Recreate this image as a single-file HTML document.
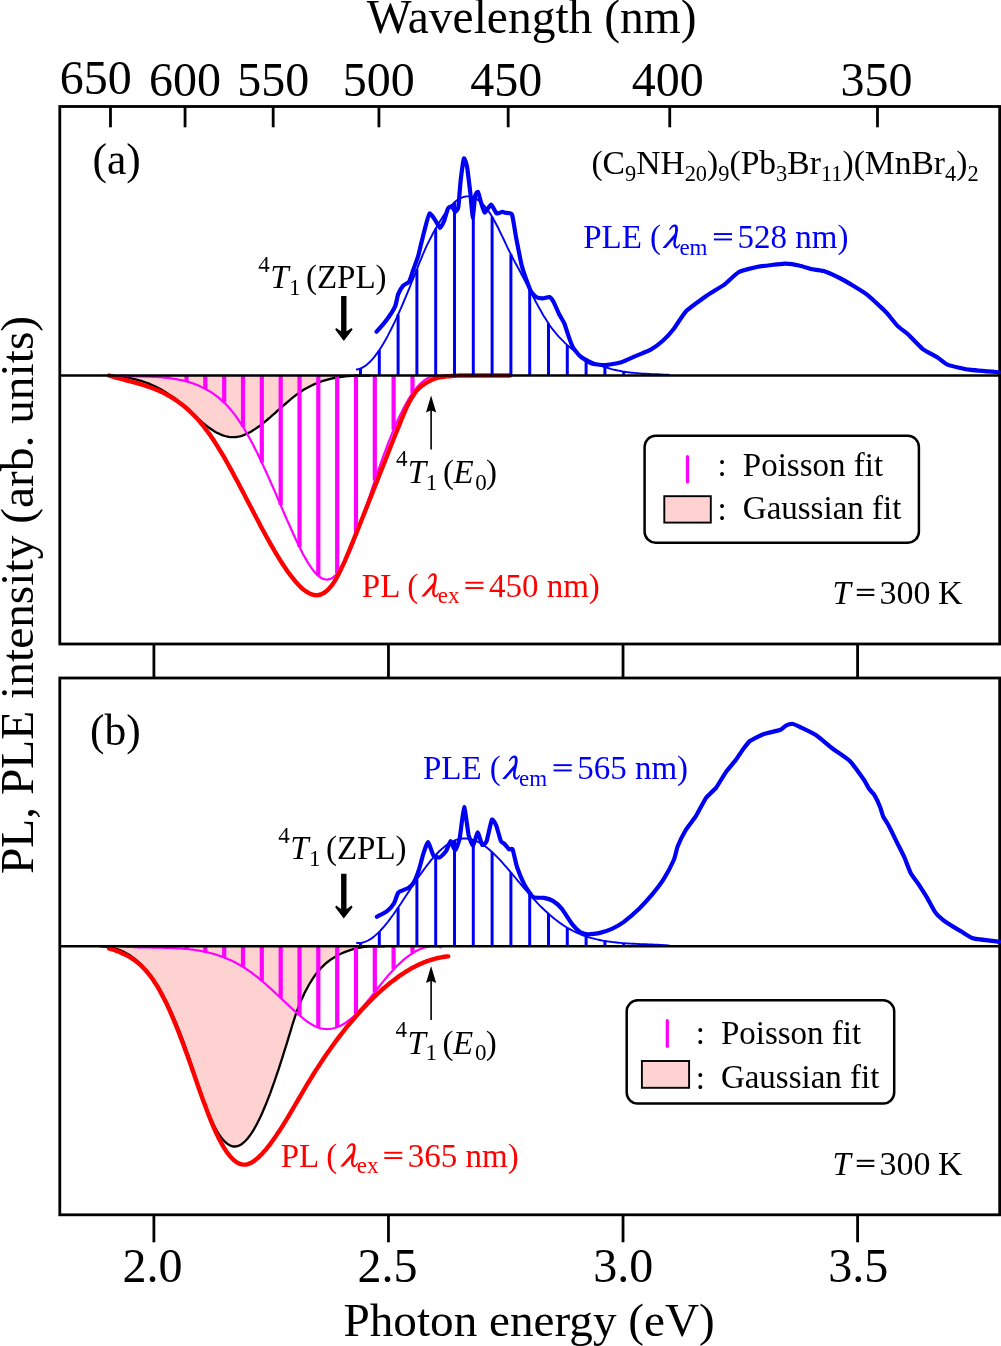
<!DOCTYPE html>
<html><head><meta charset="utf-8"><style>html,body{margin:0;padding:0;background:#fff;overflow:hidden}svg{display:block;will-change:transform}</style></head>
<body><svg width="1001" height="1346" viewBox="0 0 1001 1346"><rect x="59.8" y="106.5" width="939.9" height="537.5" fill="none" stroke="#000" stroke-width="2.8"/>
<rect x="59.8" y="678" width="939.9" height="536.8" fill="none" stroke="#000" stroke-width="2.8"/>
<line x1="110.48" y1="106.5" x2="110.48" y2="127.3" stroke="#000" stroke-width="2.8"/>
<line x1="185.05" y1="106.5" x2="185.05" y2="127.3" stroke="#000" stroke-width="2.8"/>
<line x1="273.17" y1="106.5" x2="273.17" y2="127.3" stroke="#000" stroke-width="2.8"/>
<line x1="378.93" y1="106.5" x2="378.93" y2="127.3" stroke="#000" stroke-width="2.8"/>
<line x1="508.18" y1="106.5" x2="508.18" y2="127.3" stroke="#000" stroke-width="2.8"/>
<line x1="669.75" y1="106.5" x2="669.75" y2="127.3" stroke="#000" stroke-width="2.8"/>
<line x1="877.48" y1="106.5" x2="877.48" y2="127.3" stroke="#000" stroke-width="2.8"/>
<line x1="153.90" y1="644" x2="153.90" y2="678" stroke="#000" stroke-width="2.8"/>
<line x1="153.90" y1="1214.8" x2="153.90" y2="1242.3" stroke="#000" stroke-width="2.8"/>
<line x1="388.46" y1="644" x2="388.46" y2="678" stroke="#000" stroke-width="2.8"/>
<line x1="388.46" y1="1214.8" x2="388.46" y2="1242.3" stroke="#000" stroke-width="2.8"/>
<line x1="623.03" y1="644" x2="623.03" y2="678" stroke="#000" stroke-width="2.8"/>
<line x1="623.03" y1="1214.8" x2="623.03" y2="1242.3" stroke="#000" stroke-width="2.8"/>
<line x1="857.59" y1="644" x2="857.59" y2="678" stroke="#000" stroke-width="2.8"/>
<line x1="857.59" y1="1214.8" x2="857.59" y2="1242.3" stroke="#000" stroke-width="2.8"/>
<text x="366.7" y="32.5" font-family="Liberation Serif" font-size="47.5">Wavelength (nm)</text>
<text x="343.5" y="1335.6" font-family="Liberation Serif" font-size="47.2">Photon energy (eV)</text>
<text transform="translate(33,874) rotate(-90)" x="0" y="0" font-family="Liberation Serif" font-size="47.4">PL, PLE intensity (arb. units)</text>
<text x="59.8" y="94.0" font-family="Liberation Serif" font-size="48">650</text>
<text x="149.0" y="96.0" font-family="Liberation Serif" font-size="48">600</text>
<text x="237.2" y="96.0" font-family="Liberation Serif" font-size="48">550</text>
<text x="342.7" y="96.0" font-family="Liberation Serif" font-size="48">500</text>
<text x="470.3" y="96.0" font-family="Liberation Serif" font-size="48">450</text>
<text x="631.8" y="96.0" font-family="Liberation Serif" font-size="48">400</text>
<text x="840.6" y="96.0" font-family="Liberation Serif" font-size="48">350</text>
<text x="122.4" y="1282" font-family="Liberation Serif" font-size="48">2.0</text>
<text x="357.4" y="1282" font-family="Liberation Serif" font-size="48">2.5</text>
<text x="593.3" y="1282" font-family="Liberation Serif" font-size="48">3.0</text>
<text x="828.3" y="1282" font-family="Liberation Serif" font-size="48">3.5</text>
<path d="M108.0,375.5 L108.0,375.8 L109.9,375.9 L111.8,375.9 L113.7,376.0 L115.5,376.2 L117.4,376.3 L119.3,376.5 L121.2,376.7 L123.1,377.0 L125.0,377.2 L126.8,377.5 L128.7,377.9 L130.6,378.2 L132.5,378.7 L134.4,379.1 L136.3,379.6 L138.2,380.1 L140.0,380.6 L141.9,381.2 L143.8,381.8 L145.7,382.5 L147.6,383.2 L149.5,383.9 L151.4,384.7 L153.2,385.6 L155.1,386.4 L157.0,387.4 L158.9,388.3 L160.8,389.3 L162.7,390.4 L164.5,391.5 L166.4,392.7 L168.3,393.9 L170.2,395.1 L172.1,396.4 L174.0,397.8 L175.9,399.2 L177.7,400.7 L179.6,402.2 L181.5,403.8 L183.4,405.4 L185.3,407.1 L187.2,408.8 L189.1,410.5 L190.9,412.2 L192.8,413.9 L194.7,415.7 L196.6,417.4 L198.5,419.1 L200.4,420.7 L202.2,422.3 L204.1,423.9 L206.0,425.4 L207.9,426.9 L209.8,428.2 L211.7,429.5 L213.6,430.8 L215.4,431.9 L217.3,432.9 L219.2,433.8 L221.1,434.7 L223.0,435.4 L224.9,436.0 L226.7,436.5 L228.6,436.9 L230.5,437.1 L232.4,437.2 L234.3,437.2 L236.2,437.0 L238.1,436.7 L239.9,436.3 L241.8,435.8 L243.7,435.1 L245.6,434.3 L247.5,433.5 L249.4,432.5 L251.3,431.5 L253.1,430.3 L255.0,429.1 L256.9,427.8 L258.8,426.5 L260.7,425.1 L262.6,423.6 L264.4,422.1 L266.3,420.6 L268.2,419.0 L270.1,417.4 L272.0,415.7 L273.9,414.0 L275.8,412.4 L277.6,410.7 L279.5,409.0 L281.4,407.3 L283.3,405.6 L285.2,404.0 L287.1,402.4 L288.9,400.8 L290.8,399.2 L292.7,397.7 L294.6,396.2 L296.5,394.7 L298.4,393.4 L300.3,392.1 L302.1,390.8 L304.0,389.6 L305.9,388.5 L307.8,387.5 L309.7,386.5 L311.6,385.5 L313.5,384.6 L315.3,383.8 L317.2,383.0 L319.1,382.3 L321.0,381.6 L322.9,380.9 L324.8,380.3 L326.6,379.8 L328.5,379.3 L330.4,378.8 L332.3,378.4 L334.2,378.0 L336.1,377.6 L338.0,377.3 L339.8,377.0 L341.7,376.8 L343.6,376.6 L345.5,376.4 L347.4,376.2 L349.3,376.0 L351.2,375.9 L353.0,375.8 L354.9,375.7 L356.8,375.7 L358.7,375.6 L360.6,375.6 L362.5,375.6 L364.3,375.6 L366.2,375.6 L368.1,375.6 L370.0,375.6 L370.0,375.5 Z" fill="#ffd2d2" stroke="none"/>
<path d="M108,375.8 L109.9,375.9 L111.8,375.9 L113.7,376 L115.5,376.2 L117.4,376.3 L119.3,376.5 L121.2,376.7 L123.1,377 L125,377.2 L126.8,377.5 L128.7,377.9 L130.6,378.2 L132.5,378.7 L134.4,379.1 L136.3,379.6 L138.2,380.1 L140,380.6 L141.9,381.2 L143.8,381.8 L145.7,382.5 L147.6,383.2 L149.5,383.9 L151.4,384.7 L153.2,385.6 L155.1,386.4 L157,387.4 L158.9,388.3 L160.8,389.3 L162.7,390.4 L164.5,391.5 L166.4,392.7 L168.3,393.9 L170.2,395.1 L172.1,396.4 L174,397.8 L175.9,399.2 L177.7,400.7 L179.6,402.2 L181.5,403.8 L183.4,405.4 L185.3,407.1 L187.2,408.8 L189.1,410.5 L190.9,412.2 L192.8,413.9 L194.7,415.7 L196.6,417.4 L198.5,419.1 L200.4,420.7 L202.2,422.3 L204.1,423.9 L206,425.4 L207.9,426.9 L209.8,428.2 L211.7,429.5 L213.6,430.8 L215.4,431.9 L217.3,432.9 L219.2,433.8 L221.1,434.7 L223,435.4 L224.9,436 L226.7,436.5 L228.6,436.9 L230.5,437.1 L232.4,437.2 L234.3,437.2 L236.2,437 L238.1,436.7 L239.9,436.3 L241.8,435.8 L243.7,435.1 L245.6,434.3 L247.5,433.5 L249.4,432.5 L251.3,431.5 L253.1,430.3 L255,429.1 L256.9,427.8 L258.8,426.5 L260.7,425.1 L262.6,423.6 L264.4,422.1 L266.3,420.6 L268.2,419 L270.1,417.4 L272,415.7 L273.9,414 L275.8,412.4 L277.6,410.7 L279.5,409 L281.4,407.3 L283.3,405.6 L285.2,404 L287.1,402.4 L288.9,400.8 L290.8,399.2 L292.7,397.7 L294.6,396.2 L296.5,394.7 L298.4,393.4 L300.3,392.1 L302.1,390.8 L304,389.6 L305.9,388.5 L307.8,387.5 L309.7,386.5 L311.6,385.5 L313.5,384.6 L315.3,383.8 L317.2,383 L319.1,382.3 L321,381.6 L322.9,380.9 L324.8,380.3 L326.6,379.8 L328.5,379.3 L330.4,378.8 L332.3,378.4 L334.2,378 L336.1,377.6 L338,377.3 L339.8,377 L341.7,376.8 L343.6,376.6 L345.5,376.4 L347.4,376.2 L349.3,376 L351.2,375.9 L353,375.8 L354.9,375.7 L356.8,375.7 L358.7,375.6 L360.6,375.6 L362.5,375.6 L364.3,375.6 L366.2,375.6 L368.1,375.6 L370,375.6" fill="none" stroke="#000" stroke-width="2.3"/>
<path d="M120,375.6 L122,375.7 L124,375.8 L126,375.9 L128.1,376 L130.1,376.1 L132.1,376.2 L134.1,376.2 L136.1,376.3 L138.1,376.4 L140.1,376.4 L142.1,376.5 L144.2,376.5 L146.2,376.6 L148.2,376.6 L150.2,376.7 L152.2,376.8 L154.2,376.9 L156.2,377 L158.2,377.1 L160.3,377.2 L162.3,377.4 L164.3,377.6 L166.3,377.8 L168.3,378 L170.3,378.2 L172.3,378.5 L174.3,378.8 L176.4,379.2 L178.4,379.6 L180.4,380 L182.4,380.4 L184.4,380.9 L186.4,381.4 L188.4,382 L190.4,382.6 L192.5,383.3 L194.5,384 L196.5,384.8 L198.5,385.6 L200.5,386.5 L202.5,387.4 L204.5,388.5 L206.5,389.5 L208.6,390.7 L210.6,391.9 L212.6,393.2 L214.6,394.6 L216.6,396.1 L218.6,397.7 L220.6,399.4 L222.6,401.2 L224.7,403.1 L226.7,405.2 L228.7,407.3 L230.7,409.6 L232.7,412.1 L234.7,414.6 L236.7,417.4 L238.7,420.3 L240.8,423.3 L242.8,426.5 L244.8,429.8 L246.8,433.2 L248.8,436.8 L250.8,440.5 L252.8,444.3 L254.8,448.2 L256.9,452.3 L258.9,456.4 L260.9,460.6 L262.9,464.9 L264.9,469.2 L266.9,473.6 L268.9,478.1 L270.9,482.7 L273,487.2 L275,491.9 L277,496.5 L279,501.2 L281,505.9 L283,510.6 L285,515.2 L287,519.9 L289.1,524.5 L291.1,529 L293.1,533.5 L295.1,537.8 L297.1,542.1 L299.1,546.3 L301.1,550.3 L303.1,554.2 L305.2,557.9 L307.2,561.4 L309.2,564.7 L311.2,567.6 L313.2,570.4 L315.2,572.8 L317.2,574.9 L319.2,576.6 L321.3,578 L323.3,578.9 L325.3,579.5 L327.3,579.6 L329.3,579.2 L331.3,578.4 L333.3,577.2 L335.3,575.5 L337.4,573.4 L339.4,570.9 L341.4,568 L343.4,564.6 L345.4,560.9 L347.4,556.8 L349.4,552.4 L351.4,547.7 L353.5,542.7 L355.5,537.4 L357.5,531.9 L359.5,526.3 L361.5,520.4 L363.5,514.5 L365.5,508.5 L367.5,502.4 L369.6,496.3 L371.6,490.2 L373.6,484.2 L375.6,478.2 L377.6,472.3 L379.6,466.5 L381.6,460.8 L383.6,455.3 L385.7,449.8 L387.7,444.5 L389.7,439.4 L391.7,434.3 L393.7,429.5 L395.7,424.8 L397.7,420.3 L399.7,415.9 L401.8,411.8 L403.8,407.8 L405.8,404.1 L407.8,400.5 L409.8,397.2 L411.8,394.1 L413.8,391.3 L415.8,388.6 L417.9,386.3 L419.9,384.1 L421.9,382.2 L423.9,380.5 L425.9,379.1 L427.9,377.9 L429.9,377 L431.9,376.3 L434,375.9 L436,375.7 L438,375.7 L440,376" fill="none" stroke="#ff00ff" stroke-width="2.2"/>
<line x1="431.3" y1="375.5" x2="431.3" y2="376.5" stroke="#ff00ff" stroke-width="4.2"/>
<line x1="412.5" y1="375.5" x2="412.5" y2="393.2" stroke="#ff00ff" stroke-width="4.2"/>
<line x1="393.6" y1="375.5" x2="393.6" y2="429.7" stroke="#ff00ff" stroke-width="4.2"/>
<line x1="374.8" y1="375.5" x2="374.8" y2="480.5" stroke="#ff00ff" stroke-width="4.2"/>
<line x1="356.0" y1="375.5" x2="356.0" y2="536.0" stroke="#ff00ff" stroke-width="4.2"/>
<line x1="337.2" y1="375.5" x2="337.2" y2="573.6" stroke="#ff00ff" stroke-width="4.2"/>
<line x1="318.3" y1="375.5" x2="318.3" y2="575.8" stroke="#ff00ff" stroke-width="4.2"/>
<line x1="299.5" y1="375.5" x2="299.5" y2="547.1" stroke="#ff00ff" stroke-width="4.2"/>
<line x1="280.7" y1="375.5" x2="280.7" y2="505.1" stroke="#ff00ff" stroke-width="4.2"/>
<line x1="261.8" y1="375.5" x2="261.8" y2="462.6" stroke="#ff00ff" stroke-width="4.2"/>
<line x1="243.0" y1="375.5" x2="243.0" y2="426.9" stroke="#ff00ff" stroke-width="4.2"/>
<line x1="224.2" y1="375.5" x2="224.2" y2="402.6" stroke="#ff00ff" stroke-width="4.2"/>
<line x1="205.3" y1="375.5" x2="205.3" y2="388.9" stroke="#ff00ff" stroke-width="4.2"/>
<line x1="186.5" y1="375.5" x2="186.5" y2="381.5" stroke="#ff00ff" stroke-width="4.2"/>
<line x1="167.7" y1="375.5" x2="167.7" y2="377.9" stroke="#ff00ff" stroke-width="4.2"/>
<path d="M109,375.5 L111,376.1 L113,376.7 L115,377.3 L117.1,377.8 L119.1,378.4 L121.1,378.9 L123.1,379.4 L125.1,380 L127.1,380.5 L129.2,381 L131.2,381.6 L133.2,382.1 L135.2,382.6 L137.2,383.2 L139.2,383.8 L141.2,384.4 L143.3,385 L145.3,385.6 L147.3,386.3 L149.3,387 L151.3,387.7 L153.3,388.5 L155.3,389.3 L157.4,390.1 L159.4,391 L161.4,391.9 L163.4,392.9 L165.4,393.9 L167.4,395 L169.5,396.1 L171.5,397.3 L173.5,398.6 L175.5,399.9 L177.5,401.3 L179.5,402.7 L181.5,404.2 L183.6,405.8 L185.6,407.5 L187.6,409.2 L189.6,411.1 L191.6,413 L193.6,415 L195.6,417.1 L197.7,419.3 L199.7,421.6 L201.7,424 L203.7,426.5 L205.7,429.1 L207.7,431.8 L209.8,434.6 L211.8,437.5 L213.8,440.5 L215.8,443.6 L217.8,446.8 L219.8,450.1 L221.8,453.4 L223.9,456.9 L225.9,460.4 L227.9,464 L229.9,467.6 L231.9,471.3 L233.9,475 L235.9,478.7 L238,482.5 L240,486.4 L242,490.2 L244,494.1 L246,497.9 L248,501.8 L250.1,505.7 L252.1,509.6 L254.1,513.5 L256.1,517.3 L258.1,521.1 L260.1,525 L262.1,528.7 L264.2,532.5 L266.2,536.2 L268.2,539.8 L270.2,543.4 L272.2,546.9 L274.2,550.4 L276.3,553.8 L278.3,557.1 L280.3,560.3 L282.3,563.5 L284.3,566.5 L286.3,569.5 L288.3,572.4 L290.4,575.1 L292.4,577.7 L294.4,580.2 L296.4,582.6 L298.4,584.8 L300.4,586.8 L302.4,588.7 L304.5,590.3 L306.5,591.7 L308.5,592.9 L310.5,593.9 L312.5,594.6 L314.5,595 L316.6,595.2 L318.6,595 L320.6,594.5 L322.6,593.7 L324.6,592.5 L326.6,591 L328.6,589.1 L330.7,586.8 L332.7,584.1 L334.7,581.1 L336.7,577.6 L338.7,573.9 L340.7,569.8 L342.7,565.6 L344.8,561.1 L346.8,556.4 L348.8,551.6 L350.8,546.7 L352.8,541.8 L354.8,536.8 L356.9,531.8 L358.9,526.7 L360.9,521.7 L362.9,516.7 L364.9,511.6 L366.9,506.6 L368.9,501.5 L371,496.4 L373,491.3 L375,486.2 L377,481.1 L379,476 L381,470.9 L383.1,465.7 L385.1,460.6 L387.1,455.5 L389.1,450.4 L391.1,445.3 L393.1,440.2 L395.1,435.1 L397.2,430.1 L399.2,425.1 L401.2,420.1 L403.2,415.3 L405.2,410.6 L407.2,406.2 L409.2,402.1 L411.3,398.5 L413.3,395.3 L415.3,392.5 L417.3,390 L419.3,387.9 L421.3,386.2 L423.4,384.7 L425.4,383.3 L427.4,382.1 L429.4,381 L431.4,380 L433.4,379.2 L435.4,378.5 L437.5,377.9 L439.5,377.4 L441.5,377 L443.5,376.7 L445.5,376.5 L447.5,376.3 L449.5,376.2 L451.6,376 L453.6,375.9 L455.6,375.7 L457.6,375.6 L459.6,375.5 L461.6,375.5 L463.7,375.5 L465.7,375.5 L467.7,375.5 L469.7,375.5 L471.7,375.5 L473.7,375.5 L475.7,375.5 L477.8,375.5 L479.8,375.5 L481.8,375.5 L483.8,375.5 L485.8,375.5 L487.8,375.5 L489.8,375.5 L491.9,375.5 L493.9,375.5 L495.9,375.5 L497.9,375.5 L499.9,375.5 L501.9,375.5 L504,375.5 L506,375.5 L508,375.5 L510,375.5" fill="none" stroke="#ff0000" stroke-width="4.4" stroke-linejoin="round" stroke-linecap="round"/>
<line x1="360.5" y1="375.5" x2="360.5" y2="368.4" stroke="#0000f4" stroke-width="3"/>
<line x1="379.3" y1="375.5" x2="379.3" y2="350.1" stroke="#0000f4" stroke-width="3"/>
<line x1="398.1" y1="375.5" x2="398.1" y2="314.5" stroke="#0000f4" stroke-width="3"/>
<line x1="416.9" y1="375.5" x2="416.9" y2="269.3" stroke="#0000f4" stroke-width="3"/>
<line x1="435.7" y1="375.5" x2="435.7" y2="228.5" stroke="#0000f4" stroke-width="3"/>
<line x1="454.5" y1="375.5" x2="454.5" y2="202.3" stroke="#0000f4" stroke-width="3"/>
<line x1="473.3" y1="375.5" x2="473.3" y2="197.5" stroke="#0000f4" stroke-width="3"/>
<line x1="492.1" y1="375.5" x2="492.1" y2="216.8" stroke="#0000f4" stroke-width="3"/>
<line x1="510.9" y1="375.5" x2="510.9" y2="254.3" stroke="#0000f4" stroke-width="3"/>
<line x1="529.7" y1="375.5" x2="529.7" y2="290.0" stroke="#0000f4" stroke-width="3"/>
<line x1="548.5" y1="375.5" x2="548.5" y2="323.4" stroke="#0000f4" stroke-width="3"/>
<line x1="567.3" y1="375.5" x2="567.3" y2="345.0" stroke="#0000f4" stroke-width="3"/>
<line x1="586.1" y1="375.5" x2="586.1" y2="358.7" stroke="#0000f4" stroke-width="3"/>
<line x1="604.9" y1="375.5" x2="604.9" y2="367.1" stroke="#0000f4" stroke-width="3"/>
<line x1="623.7" y1="375.5" x2="623.7" y2="371.6" stroke="#0000f4" stroke-width="3"/>
<line x1="642.5" y1="375.5" x2="642.5" y2="373.6" stroke="#0000f4" stroke-width="3"/>
<path d="M356,369.5 L358,369.2 L359.9,368.7 L361.9,367.8 L363.9,366.7 L365.9,365.4 L367.8,363.8 L369.8,362 L371.8,359.9 L373.8,357.6 L375.7,355.1 L377.7,352.4 L379.7,349.5 L381.6,346.4 L383.6,343.2 L385.6,339.7 L387.6,336.1 L389.5,332.4 L391.5,328.5 L393.5,324.4 L395.5,320.3 L397.4,316 L399.4,311.6 L401.4,307.1 L403.4,302.5 L405.3,297.9 L407.3,293.1 L409.3,288.3 L411.2,283.5 L413.2,278.6 L415.2,273.6 L417.2,268.7 L419.1,263.7 L421.1,258.8 L423.1,254 L425.1,249.4 L427,245.1 L429,241.1 L431,237.2 L432.9,233.5 L434.9,229.9 L436.9,226.4 L438.9,223.1 L440.8,219.9 L442.8,216.8 L444.8,213.8 L446.8,211.1 L448.7,208.5 L450.7,206.2 L452.7,204.1 L454.6,202.2 L456.6,200.6 L458.6,199.2 L460.6,198.2 L462.5,197.3 L464.5,196.8 L466.5,196.4 L468.5,196.4 L470.4,196.6 L472.4,197.1 L474.4,197.9 L476.4,198.9 L478.3,200.2 L480.3,201.8 L482.3,203.6 L484.2,205.7 L486.2,208.1 L488.2,210.7 L490.2,213.6 L492.1,216.8 L494.1,220.3 L496.1,224 L498.1,227.8 L500,231.8 L502,235.9 L504,240 L505.9,244.2 L507.9,248.3 L509.9,252.3 L511.9,256.2 L513.8,260 L515.8,263.7 L517.8,267.3 L519.8,271 L521.7,274.7 L523.7,278.4 L525.7,282.2 L527.6,286 L529.6,289.9 L531.6,293.7 L533.6,297.5 L535.5,301.2 L537.5,304.9 L539.5,308.5 L541.5,312 L543.4,315.4 L545.4,318.6 L547.4,321.8 L549.3,324.7 L551.3,327.5 L553.3,330.1 L555.3,332.5 L557.2,334.9 L559.2,337.1 L561.2,339.2 L563.2,341.2 L565.1,343.1 L567.1,344.9 L569.1,346.6 L571.1,348.3 L573,349.8 L575,351.4 L577,352.8 L578.9,354.2 L580.9,355.5 L582.9,356.8 L584.9,358 L586.8,359.1 L588.8,360.2 L590.8,361.2 L592.8,362.2 L594.7,363.1 L596.7,364 L598.7,364.8 L600.6,365.6 L602.6,366.3 L604.6,367 L606.6,367.6 L608.5,368.2 L610.5,368.8 L612.5,369.3 L614.5,369.8 L616.4,370.2 L618.4,370.6 L620.4,371 L622.3,371.4 L624.3,371.7 L626.3,372 L628.3,372.2 L630.2,372.5 L632.2,372.7 L634.2,372.9 L636.2,373.1 L638.1,373.3 L640.1,373.4 L642.1,373.6 L644.1,373.7 L646,373.8 L648,373.9 L650,374 L651.9,374.1 L653.9,374.2 L655.9,374.2 L657.9,374.3 L659.8,374.4 L661.8,374.5 L663.8,374.6 L665.8,374.7 L667.7,374.8 L669.7,374.9" fill="none" stroke="#0000f4" stroke-width="1.9"/>
<path d="M376.6,331.7C377.5,330.7 385.6,321.3 387.1,319.2C388.7,317.1 394.3,308.3 395.2,306.2C396.1,304.1 397.5,295.8 398.2,294.1C398.9,292.4 402.3,286.6 403.2,285.6C404.1,284.6 408.4,282.9 409.2,281.6C410,280.3 412.4,272.2 413.2,270.1C413.9,268 417.6,258.1 418.2,256C418.8,253.9 420.2,247.7 420.7,245.5C421.2,243.3 424,232.2 424.7,229.5C425.4,226.8 428.6,214.3 429.5,213.5C430.4,212.7 434.2,218.7 435.1,219.9C436,221.1 439.2,227.8 439.9,227.9C440.6,228 443.2,223.1 443.9,221.5C444.6,219.9 447.2,210 447.9,208.7C448.6,207.4 451.3,206 451.9,206.3C452.5,206.6 454.6,211.8 455.1,211.9C455.6,212 457.8,209.8 458.3,207.1C458.8,204.4 460.2,184.1 460.7,180C461.2,175.9 463.4,159.5 463.9,158.4C464.4,157.3 466.6,164.3 467.1,167.2C467.6,170.1 469.8,188.5 470.3,192.7C470.8,196.9 472.3,217.2 472.7,217.5C473.1,217.8 474.7,198.1 475.1,196C475.5,193.9 477.5,191.3 478,192C478.5,192.7 480.9,202.3 481.5,204C482.1,205.7 483.9,212.6 484.7,212.7C485.5,212.8 490.1,204.6 491.1,204.7C492.1,204.8 495.8,212.9 496.7,213.5C497.6,214.1 501.6,212 502.3,211.9C503,211.8 504.6,212.5 505.4,212.7C506.2,212.9 511.1,212.6 512,214.7C512.9,216.8 515.3,233.4 516.1,237.5C516.9,241.6 520.6,260.8 521.4,264.2C522.2,267.6 525.3,276.7 526.1,278.9C526.9,281.1 530,289.5 530.8,291C531.6,292.5 535.1,296.4 536.1,297C537.1,297.6 541.7,298.3 542.8,298.3C543.9,298.3 548.6,296.7 549.5,297C550.4,297.3 552.7,300.3 553.5,301.7C554.3,303.1 558,311.9 558.9,313.7C559.8,315.5 563.4,321.3 564.2,323.1C565,324.9 567.5,333.1 568.2,335.1C568.9,337.1 571.9,345.4 572.9,347.2C573.9,349 578.8,355.2 580.3,356.5C581.8,357.8 589,362.5 591,363.2C593,363.9 601.8,365.3 604.3,365.2C606.8,365.1 618.9,363 621.5,362.2C624.1,361.4 633.7,356.9 636.1,355.9C638.5,354.8 648.5,350.9 650.8,349.6C653.1,348.3 661.5,341.9 663.4,340.2C665.3,338.5 672,331.1 673.9,328.7C675.8,326.2 683.7,313.6 686.5,310.8C689.3,308 704.4,297.3 707.5,295.1C710.6,292.9 721.7,286.5 724.3,284.6C726.9,282.7 736.1,273.5 738.9,272C741.7,270.5 753.9,267.5 757.8,266.8C761.6,266.1 781.6,263.7 785.1,263.6C788.6,263.5 797.8,265.2 800,265.7C802.2,266.1 809.1,268.6 811.1,269C813.1,269.4 821.2,270.3 823.7,271.1C826.2,271.9 838.1,277.3 840.6,278.5C843.1,279.7 850.9,284.4 853.2,285.8C855.5,287.2 865.7,293.5 868,295.3C870.3,297.1 879,305.4 880.6,306.9C882.2,308.4 885.6,311.6 887,313.2C888.4,314.8 895.8,324.1 897.5,325.9C899.2,327.7 905.9,332.4 908,334.3C910.1,336.2 920.3,347.2 922.8,349.1C925.3,351 935.5,356.2 937.6,357.5C939.7,358.8 945.5,363.9 948.1,364.9C950.7,365.9 965,369.1 969.2,369.7C973.4,370.3 996.2,372.1 998.7,372.3" fill="none" stroke="#0000f4" stroke-width="4.2" stroke-linejoin="round" stroke-linecap="round"/>
<line x1="60" y1="375.5" x2="999" y2="375.5" stroke="#000" stroke-width="2.6"/>
<path d="M100.0,946.3 L100.0,946.3 L102.1,946.4 L104.1,946.5 L106.2,946.7 L108.2,947.0 L110.3,947.4 L112.3,947.8 L114.4,948.3 L116.4,948.9 L118.5,949.6 L120.5,950.4 L122.6,951.3 L124.6,952.3 L126.7,953.4 L128.7,954.6 L130.8,955.9 L132.8,957.4 L134.9,958.9 L136.9,960.6 L139.0,962.5 L141.0,964.4 L143.1,966.5 L145.1,968.8 L147.2,971.2 L149.2,973.8 L151.3,976.5 L153.3,979.4 L155.4,982.4 L157.4,985.6 L159.5,989.0 L161.5,992.6 L163.6,996.4 L165.6,1000.3 L167.7,1004.4 L169.7,1008.7 L171.8,1013.1 L173.8,1017.8 L175.9,1022.6 L177.9,1027.5 L180.0,1032.7 L182.0,1038.0 L184.1,1043.5 L186.1,1049.2 L188.2,1055.1 L190.2,1061.1 L192.3,1067.2 L194.3,1073.4 L196.4,1079.5 L198.4,1085.7 L200.5,1091.7 L202.5,1097.6 L204.6,1103.3 L206.6,1108.7 L208.7,1113.8 L210.7,1118.6 L212.8,1123.0 L214.8,1127.1 L216.9,1130.8 L218.9,1134.2 L221.0,1137.1 L223.0,1139.7 L225.1,1141.9 L227.1,1143.6 L229.2,1145.0 L231.2,1145.9 L233.3,1146.5 L235.3,1146.5 L237.4,1146.2 L239.4,1145.4 L241.5,1144.2 L243.5,1142.7 L245.6,1140.8 L247.6,1138.5 L249.7,1135.8 L251.7,1132.9 L253.8,1129.6 L255.8,1126.0 L257.9,1122.1 L259.9,1117.9 L262.0,1113.5 L264.0,1108.8 L266.1,1103.8 L268.1,1098.6 L270.2,1093.3 L272.2,1087.7 L274.3,1081.9 L276.3,1075.9 L278.4,1069.8 L280.4,1063.6 L282.5,1057.2 L284.5,1050.7 L286.6,1044.1 L288.6,1037.4 L290.7,1030.6 L292.7,1023.8 L294.8,1017.4 L296.8,1011.4 L298.9,1006.0 L300.9,1001.0 L303.0,996.4 L305.0,992.1 L307.1,988.2 L309.1,984.5 L311.2,981.1 L313.2,977.9 L315.3,975.0 L317.3,972.3 L319.4,969.9 L321.4,967.6 L323.5,965.6 L325.5,963.7 L327.6,962.0 L329.6,960.4 L331.7,959.0 L333.7,957.7 L335.8,956.5 L337.8,955.3 L339.9,954.3 L341.9,953.3 L344.0,952.4 L346.0,951.6 L348.1,950.8 L350.1,950.1 L352.2,949.5 L354.2,948.9 L356.3,948.4 L358.3,947.9 L360.4,947.5 L362.4,947.1 L364.5,946.8 L366.5,946.6 L368.6,946.4 L370.6,946.3 L372.7,946.3 L374.7,946.3 L376.8,946.3 L378.8,946.3 L380.9,946.3 L382.9,946.3 L385.0,946.4 L385.0,946.3 Z" fill="#ffd2d2" stroke="none"/>
<path d="M100,946.3 L102.1,946.4 L104.1,946.5 L106.2,946.7 L108.2,947 L110.3,947.4 L112.3,947.8 L114.4,948.3 L116.4,948.9 L118.5,949.6 L120.5,950.4 L122.6,951.3 L124.6,952.3 L126.7,953.4 L128.7,954.6 L130.8,955.9 L132.8,957.4 L134.9,958.9 L136.9,960.6 L139,962.5 L141,964.4 L143.1,966.5 L145.1,968.8 L147.2,971.2 L149.2,973.8 L151.3,976.5 L153.3,979.4 L155.4,982.4 L157.4,985.6 L159.5,989 L161.5,992.6 L163.6,996.4 L165.6,1000.3 L167.7,1004.4 L169.7,1008.7 L171.8,1013.1 L173.8,1017.8 L175.9,1022.6 L177.9,1027.5 L180,1032.7 L182,1038 L184.1,1043.5 L186.1,1049.2 L188.2,1055.1 L190.2,1061.1 L192.3,1067.2 L194.3,1073.4 L196.4,1079.5 L198.4,1085.7 L200.5,1091.7 L202.5,1097.6 L204.6,1103.3 L206.6,1108.7 L208.7,1113.8 L210.7,1118.6 L212.8,1123 L214.8,1127.1 L216.9,1130.8 L218.9,1134.2 L221,1137.1 L223,1139.7 L225.1,1141.9 L227.1,1143.6 L229.2,1145 L231.2,1145.9 L233.3,1146.5 L235.3,1146.5 L237.4,1146.2 L239.4,1145.4 L241.5,1144.2 L243.5,1142.7 L245.6,1140.8 L247.6,1138.5 L249.7,1135.8 L251.7,1132.9 L253.8,1129.6 L255.8,1126 L257.9,1122.1 L259.9,1117.9 L262,1113.5 L264,1108.8 L266.1,1103.8 L268.1,1098.6 L270.2,1093.3 L272.2,1087.7 L274.3,1081.9 L276.3,1075.9 L278.4,1069.8 L280.4,1063.6 L282.5,1057.2 L284.5,1050.7 L286.6,1044.1 L288.6,1037.4 L290.7,1030.6 L292.7,1023.8 L294.8,1017.4 L296.8,1011.4 L298.9,1006 L300.9,1001 L303,996.4 L305,992.1 L307.1,988.2 L309.1,984.5 L311.2,981.1 L313.2,977.9 L315.3,975 L317.3,972.3 L319.4,969.9 L321.4,967.6 L323.5,965.6 L325.5,963.7 L327.6,962 L329.6,960.4 L331.7,959 L333.7,957.7 L335.8,956.5 L337.8,955.3 L339.9,954.3 L341.9,953.3 L344,952.4 L346,951.6 L348.1,950.8 L350.1,950.1 L352.2,949.5 L354.2,948.9 L356.3,948.4 L358.3,947.9 L360.4,947.5 L362.4,947.1 L364.5,946.8 L366.5,946.6 L368.6,946.4 L370.6,946.3 L372.7,946.3 L374.7,946.3 L376.8,946.3 L378.8,946.3 L380.9,946.3 L382.9,946.3 L385,946.4" fill="none" stroke="#000" stroke-width="2.3"/>
<path d="M120,946.3 L122,946.3 L124.1,946.5 L126.1,946.6 L128.1,946.8 L130.1,946.9 L132.2,947 L134.2,947.1 L136.2,947.2 L138.2,947.3 L140.3,947.3 L142.3,947.4 L144.3,947.4 L146.3,947.5 L148.4,947.5 L150.4,947.5 L152.4,947.6 L154.4,947.6 L156.5,947.6 L158.5,947.7 L160.5,947.7 L162.5,947.7 L164.6,947.8 L166.6,947.8 L168.6,947.9 L170.6,948 L172.7,948.1 L174.7,948.1 L176.7,948.3 L178.7,948.4 L180.8,948.5 L182.8,948.7 L184.8,948.8 L186.8,949 L188.9,949.2 L190.9,949.5 L192.9,949.7 L194.9,950 L197,950.3 L199,950.6 L201,951 L203,951.4 L205.1,951.8 L207.1,952.2 L209.1,952.7 L211.1,953.2 L213.2,953.8 L215.2,954.4 L217.2,955 L219.2,955.7 L221.3,956.4 L223.3,957.1 L225.3,957.9 L227.3,958.8 L229.4,959.7 L231.4,960.6 L233.4,961.6 L235.4,962.6 L237.5,963.7 L239.5,964.8 L241.5,966 L243.5,967.2 L245.6,968.5 L247.6,969.9 L249.6,971.3 L251.6,972.7 L253.7,974.3 L255.7,975.8 L257.7,977.4 L259.7,979.1 L261.8,980.8 L263.8,982.5 L265.8,984.3 L267.8,986.1 L269.9,987.9 L271.9,989.7 L273.9,991.6 L275.9,993.5 L278,995.4 L280,997.3 L282,999.2 L284,1001.1 L286.1,1003 L288.1,1004.9 L290.1,1006.8 L292.1,1008.7 L294.2,1010.6 L296.2,1012.4 L298.2,1014.3 L300.2,1016 L302.3,1017.7 L304.3,1019.3 L306.3,1020.8 L308.3,1022.3 L310.4,1023.6 L312.4,1024.8 L314.4,1025.9 L316.4,1026.8 L318.5,1027.6 L320.5,1028.2 L322.5,1028.7 L324.5,1029 L326.6,1029.1 L328.6,1029 L330.6,1028.8 L332.6,1028.5 L334.7,1028 L336.7,1027.3 L338.7,1026.5 L340.7,1025.6 L342.8,1024.5 L344.8,1023.3 L346.8,1021.9 L348.8,1020.4 L350.9,1018.8 L352.9,1017 L354.9,1015.2 L356.9,1013.2 L359,1011 L361,1008.8 L363,1006.5 L365,1004.2 L367.1,1001.7 L369.1,999.3 L371.1,996.7 L373.1,994.2 L375.2,991.6 L377.2,989 L379.2,986.5 L381.2,983.9 L383.3,981.4 L385.3,978.9 L387.3,976.5 L389.3,974.2 L391.4,971.9 L393.4,969.7 L395.4,967.6 L397.4,965.5 L399.5,963.6 L401.5,961.7 L403.5,959.9 L405.5,958.2 L407.6,956.6 L409.6,955.2 L411.6,953.8 L413.6,952.5 L415.7,951.3 L417.7,950.3 L419.7,949.3 L421.7,948.5 L423.8,947.8 L425.8,947.2 L427.8,946.8 L429.8,946.4 L431.9,946.3 L433.9,946.3 L435.9,946.3 L437.9,946.5 L440,946.9 L442,947.4" fill="none" stroke="#ff00ff" stroke-width="2.2"/>
<line x1="412.5" y1="946.3" x2="412.5" y2="953.2" stroke="#ff00ff" stroke-width="4.2"/>
<line x1="393.6" y1="946.3" x2="393.6" y2="969.4" stroke="#ff00ff" stroke-width="4.2"/>
<line x1="374.8" y1="946.3" x2="374.8" y2="992.1" stroke="#ff00ff" stroke-width="4.2"/>
<line x1="356.0" y1="946.3" x2="356.0" y2="1014.1" stroke="#ff00ff" stroke-width="4.2"/>
<line x1="337.2" y1="946.3" x2="337.2" y2="1027.1" stroke="#ff00ff" stroke-width="4.2"/>
<line x1="318.3" y1="946.3" x2="318.3" y2="1027.5" stroke="#ff00ff" stroke-width="4.2"/>
<line x1="299.5" y1="946.3" x2="299.5" y2="1015.4" stroke="#ff00ff" stroke-width="4.2"/>
<line x1="280.7" y1="946.3" x2="280.7" y2="997.9" stroke="#ff00ff" stroke-width="4.2"/>
<line x1="261.8" y1="946.3" x2="261.8" y2="980.8" stroke="#ff00ff" stroke-width="4.2"/>
<line x1="243.0" y1="946.3" x2="243.0" y2="966.9" stroke="#ff00ff" stroke-width="4.2"/>
<line x1="224.2" y1="946.3" x2="224.2" y2="957.5" stroke="#ff00ff" stroke-width="4.2"/>
<line x1="205.3" y1="946.3" x2="205.3" y2="951.9" stroke="#ff00ff" stroke-width="4.2"/>
<line x1="186.5" y1="946.3" x2="186.5" y2="949.0" stroke="#ff00ff" stroke-width="4.2"/>
<line x1="167.7" y1="946.3" x2="167.7" y2="947.9" stroke="#ff00ff" stroke-width="4.2"/>
<path d="M109,948.4 L110.7,948.9 L112.4,949.5 L114.1,950 L115.8,950.6 L117.5,951.3 L119.2,951.9 L120.9,952.6 L122.6,953.4 L124.3,954.2 L126,955 L127.7,955.9 L129.5,956.9 L131.2,957.9 L132.9,959.1 L134.6,960.2 L136.3,961.5 L138,962.9 L139.7,964.4 L141.4,965.9 L143.1,967.6 L144.8,969.4 L146.5,971.3 L148.2,973.3 L149.9,975.4 L151.6,977.7 L153.3,980.1 L155,982.7 L156.7,985.4 L158.4,988.2 L160.1,991.2 L161.8,994.4 L163.5,997.6 L165.2,1001.1 L167,1004.6 L168.7,1008.3 L170.4,1012.1 L172.1,1016.1 L173.8,1020.1 L175.5,1024.2 L177.2,1028.5 L178.9,1032.8 L180.6,1037.2 L182.3,1041.7 L184,1046.2 L185.7,1050.9 L187.4,1055.6 L189.1,1060.3 L190.8,1065.1 L192.5,1070 L194.2,1074.9 L195.9,1079.8 L197.6,1084.7 L199.3,1089.5 L201,1094.4 L202.7,1099.2 L204.5,1103.9 L206.2,1108.5 L207.9,1113 L209.6,1117.4 L211.3,1121.6 L213,1125.7 L214.7,1129.6 L216.4,1133.3 L218.1,1136.9 L219.8,1140.2 L221.5,1143.4 L223.2,1146.4 L224.9,1149.1 L226.6,1151.7 L228.3,1154 L230,1156.1 L231.7,1158 L233.4,1159.7 L235.1,1161.1 L236.8,1162.3 L238.5,1163.3 L240.2,1164 L242,1164.4 L243.7,1164.6 L245.4,1164.6 L247.1,1164.3 L248.8,1163.8 L250.5,1163.1 L252.2,1162.2 L253.9,1161.1 L255.6,1159.8 L257.3,1158.4 L259,1156.8 L260.7,1155.2 L262.4,1153.4 L264.1,1151.5 L265.8,1149.6 L267.5,1147.5 L269.2,1145.3 L270.9,1143.1 L272.6,1140.7 L274.3,1138.3 L276,1135.9 L277.7,1133.3 L279.5,1130.7 L281.2,1128.1 L282.9,1125.4 L284.6,1122.7 L286.3,1119.9 L288,1117.1 L289.7,1114.2 L291.4,1111.3 L293.1,1108.4 L294.8,1105.5 L296.5,1102.6 L298.2,1099.7 L299.9,1096.8 L301.6,1093.9 L303.3,1091 L305,1088.1 L306.7,1085.2 L308.4,1082.4 L310.1,1079.6 L311.8,1076.8 L313.5,1074 L315.2,1071.3 L317,1068.6 L318.7,1066 L320.4,1063.4 L322.1,1060.8 L323.8,1058.3 L325.5,1055.8 L327.2,1053.3 L328.9,1050.9 L330.6,1048.5 L332.3,1046.1 L334,1043.7 L335.7,1041.4 L337.4,1039.2 L339.1,1036.9 L340.8,1034.7 L342.5,1032.5 L344.2,1030.3 L345.9,1028.2 L347.6,1026.1 L349.3,1024 L351,1022 L352.7,1020 L354.5,1018 L356.2,1016 L357.9,1014.1 L359.6,1012.2 L361.3,1010.3 L363,1008.5 L364.7,1006.7 L366.4,1004.9 L368.1,1003.1 L369.8,1001.4 L371.5,999.7 L373.2,998 L374.9,996.3 L376.6,994.7 L378.3,993.1 L380,991.6 L381.7,990 L383.4,988.5 L385.1,987.1 L386.8,985.6 L388.5,984.2 L390.2,982.8 L392,981.5 L393.7,980.2 L395.4,978.9 L397.1,977.6 L398.8,976.4 L400.5,975.2 L402.2,974.1 L403.9,973 L405.6,971.9 L407.3,970.8 L409,969.8 L410.7,968.8 L412.4,967.9 L414.1,967 L415.8,966.1 L417.5,965.2 L419.2,964.4 L420.9,963.7 L422.6,962.9 L424.3,962.2 L426,961.6 L427.7,960.9 L429.5,960.4 L431.2,959.8 L432.9,959.3 L434.6,958.8 L436.3,958.4 L438,958 L439.7,957.6 L441.4,957.3 L443.1,957 L444.8,956.7 L446.5,956.5 L448.2,956.4" fill="none" stroke="#ff0000" stroke-width="4.4" stroke-linejoin="round" stroke-linecap="round"/>
<line x1="360.5" y1="946.3" x2="360.5" y2="942.9" stroke="#0000f4" stroke-width="3"/>
<line x1="379.3" y1="946.3" x2="379.3" y2="931.7" stroke="#0000f4" stroke-width="3"/>
<line x1="398.1" y1="946.3" x2="398.1" y2="907.7" stroke="#0000f4" stroke-width="3"/>
<line x1="416.9" y1="946.3" x2="416.9" y2="879.4" stroke="#0000f4" stroke-width="3"/>
<line x1="435.7" y1="946.3" x2="435.7" y2="855.0" stroke="#0000f4" stroke-width="3"/>
<line x1="454.5" y1="946.3" x2="454.5" y2="840.5" stroke="#0000f4" stroke-width="3"/>
<line x1="473.3" y1="946.3" x2="473.3" y2="839.9" stroke="#0000f4" stroke-width="3"/>
<line x1="492.1" y1="946.3" x2="492.1" y2="852.1" stroke="#0000f4" stroke-width="3"/>
<line x1="510.9" y1="946.3" x2="510.9" y2="872.4" stroke="#0000f4" stroke-width="3"/>
<line x1="529.7" y1="946.3" x2="529.7" y2="894.7" stroke="#0000f4" stroke-width="3"/>
<line x1="548.5" y1="946.3" x2="548.5" y2="913.7" stroke="#0000f4" stroke-width="3"/>
<line x1="567.3" y1="946.3" x2="567.3" y2="927.7" stroke="#0000f4" stroke-width="3"/>
<line x1="586.1" y1="946.3" x2="586.1" y2="936.4" stroke="#0000f4" stroke-width="3"/>
<line x1="604.9" y1="946.3" x2="604.9" y2="941.0" stroke="#0000f4" stroke-width="3"/>
<line x1="623.7" y1="946.3" x2="623.7" y2="943.2" stroke="#0000f4" stroke-width="3"/>
<line x1="642.5" y1="946.3" x2="642.5" y2="944.2" stroke="#0000f4" stroke-width="3"/>
<path d="M356.2,942.8 L358.2,943 L360.1,943 L362.1,942.7 L364.1,942.2 L366.1,941.5 L368,940.5 L370,939.4 L372,938.1 L374,936.6 L375.9,934.9 L377.9,933.1 L379.9,931.1 L381.8,929 L383.8,926.8 L385.8,924.4 L387.8,922 L389.7,919.4 L391.7,916.7 L393.7,914 L395.6,911.2 L397.6,908.4 L399.6,905.5 L401.6,902.5 L403.5,899.5 L405.5,896.5 L407.5,893.5 L409.5,890.5 L411.4,887.6 L413.4,884.6 L415.4,881.7 L417.3,878.8 L419.3,875.9 L421.3,873.1 L423.3,870.4 L425.2,867.7 L427.2,865.1 L429.2,862.6 L431.1,860.2 L433.1,857.9 L435.1,855.7 L437.1,853.5 L439,851.5 L441,849.7 L443,847.9 L445,846.3 L446.9,844.8 L448.9,843.5 L450.9,842.3 L452.8,841.3 L454.8,840.4 L456.8,839.7 L458.8,839.1 L460.7,838.8 L462.7,838.5 L464.7,838.4 L466.7,838.5 L468.6,838.7 L470.6,839.1 L472.6,839.7 L474.5,840.3 L476.5,841.1 L478.5,842.1 L480.5,843.2 L482.4,844.4 L484.4,845.8 L486.4,847.3 L488.3,848.8 L490.3,850.5 L492.3,852.3 L494.3,854.2 L496.2,856.1 L498.2,858.1 L500.2,860.2 L502.2,862.4 L504.1,864.6 L506.1,866.8 L508.1,869.1 L510,871.4 L512,873.8 L514,876.1 L516,878.5 L517.9,880.9 L519.9,883.2 L521.9,885.6 L523.8,887.9 L525.8,890.2 L527.8,892.5 L529.8,894.8 L531.7,897 L533.7,899.1 L535.7,901.2 L537.7,903.3 L539.6,905.3 L541.6,907.3 L543.6,909.2 L545.5,911 L547.5,912.8 L549.5,914.6 L551.5,916.3 L553.4,917.9 L555.4,919.5 L557.4,921 L559.3,922.5 L561.3,923.9 L563.3,925.2 L565.3,926.5 L567.2,927.7 L569.2,928.9 L571.2,929.9 L573.2,931 L575.1,931.9 L577.1,932.9 L579.1,933.7 L581,934.5 L583,935.3 L585,936 L587,936.7 L588.9,937.3 L590.9,937.9 L592.9,938.4 L594.9,938.9 L596.8,939.4 L598.8,939.8 L600.8,940.2 L602.7,940.6 L604.7,940.9 L606.7,941.3 L608.7,941.6 L610.6,941.8 L612.6,942.1 L614.6,942.3 L616.5,942.5 L618.5,942.7 L620.5,942.9 L622.5,943.1 L624.4,943.2 L626.4,943.4 L628.4,943.5 L630.4,943.6 L632.3,943.7 L634.3,943.8 L636.3,943.9 L638.2,944 L640.2,944.1 L642.2,944.2 L644.2,944.2 L646.1,944.3 L648.1,944.4 L650.1,944.5 L652,944.5 L654,944.6 L656,944.7 L658,944.8 L659.9,944.9 L661.9,945 L663.9,945.2 L665.9,945.3 L667.8,945.4 L669.8,945.6" fill="none" stroke="#0000f4" stroke-width="1.9"/>
<path d="M376.9,916.8C377.7,916.3 385.4,912.5 386.8,911.4C388.2,910.3 393,904.9 394,903.3C395,901.7 397.2,893.8 398.4,892.5C399.6,891.2 407,888.8 408.3,888C409.6,887.2 412.8,884.2 413.7,882.6C414.6,881 418.3,871.6 419.1,869.1C419.9,866.6 422.9,855.1 423.6,852.9C424.4,850.6 427.3,841.9 428.1,842.1C428.9,842.3 432.5,854.3 433.5,855.6C434.5,856.9 438.8,857.8 439.8,857.4C440.9,857 445.2,852.5 446.1,851.1C447,849.8 449.9,841.3 450.6,841.2C451.4,841.1 454.4,850.4 455.1,850.2C455.9,850 458.9,842.2 459.6,838.6C460.4,835 463.4,807.4 464.1,807.1C464.9,806.8 467.9,831.8 468.6,835C469.4,838.2 472.4,845.9 473.1,845.7C473.9,845.5 476.9,832.4 477.6,832.3C478.4,832.2 481.4,844.1 482.1,844.8C482.9,845.5 485.8,843.3 486.6,841.2C487.4,839.1 491.1,821 491.9,819.7C492.7,818.4 495.6,824.2 496.4,826C497.1,827.8 500.2,839.7 500.9,841.2C501.6,842.7 503.8,843.2 504.5,843.9C505.2,844.6 508.3,848.8 509,849.3C509.7,849.8 511.9,847.8 512.6,849.3C513.3,850.8 516.1,864.4 517.1,867.3C518.1,870.2 522.7,881.4 524,883.9C525.3,886.4 531.3,895.7 533,896.9C534.7,898.1 542.3,897.6 544,897.9C545.7,898.2 551.4,900 552.9,900.9C554.4,901.8 560.3,907 561.9,908.9C563.5,910.8 570.4,922 571.9,923.9C573.4,925.8 578.6,931 579.9,931.9C581.2,932.8 586.2,934.2 587.9,934.3C589.6,934.4 597.9,933.4 599.9,932.9C601.9,932.4 609.9,929.8 611.9,928.9C613.9,928 621.6,923.6 623.9,921.9C626.2,920.1 637.6,910.1 639.9,907.9C642.2,905.6 649.8,897.3 651.8,894.9C653.8,892.5 662,881.8 663.8,878.9C665.6,876 672.6,862.7 673.8,860C675,857.3 676.8,848.5 677.8,846C678.8,843.5 684.3,832.5 685.8,830C687.3,827.5 694.3,818.6 696,815.9C697.7,813.2 704.3,800.2 706,797.9C707.7,795.6 714.3,790.1 716,787.9C717.7,785.7 724.3,774.2 726,771.9C727.7,769.6 734.6,761.6 735.9,759.9C737.2,758.1 740.7,752.5 741.9,750.9C743.1,749.3 748.1,742.4 749.9,741C751.7,739.6 761.4,734.9 763.9,734C766.4,733.1 778.1,730.7 779.9,730C781.7,729.3 784.8,726.1 785.9,725.6C787,725.1 791.7,723.9 792.9,724C794.1,724.1 798,726.1 799.9,727C801.8,727.9 813.2,733.2 815.9,735C818.6,736.8 829,745.8 831.8,748C834.6,750.2 847.1,758.2 849.8,760.9C852.5,763.6 862.5,777.7 864.1,780C865.7,782.3 868.1,787.5 869,788.8C869.9,790.1 873.7,793.8 874.6,795.3C875.5,796.8 879.5,805.5 880.2,807.3C880.9,809.1 882.7,815.5 883.4,817C884.1,818.5 887.2,823 888.3,825C889.4,827 895,838.4 896.3,841.1C897.6,843.8 903.1,854.5 904.3,857.2C905.5,859.9 909.6,871 910.8,873.3C912,875.6 917.5,882.6 918.8,884.6C920.1,886.6 925.6,895.1 926.9,897.4C928.2,899.7 933.6,910 934.9,911.9C936.2,913.8 941.4,918.7 942.9,919.9C944.4,921.1 951,925.4 952.6,926.4C954.2,927.4 960.5,931 962.2,932C963.9,933 970.4,937.6 973.5,938.4C976.6,939.2 997.1,941.4 999.2,941.7" fill="none" stroke="#0000f4" stroke-width="4.2" stroke-linejoin="round" stroke-linecap="round"/>
<line x1="60" y1="946.3" x2="999" y2="946.3" stroke="#000" stroke-width="2.6"/>
<text x="92.4" y="174.4" font-family="Liberation Serif" font-size="43.5" fill="#000">(a)</text>
<text x="90.0" y="745.4" font-family="Liberation Serif" font-size="43.5" fill="#000">(b)</text>
<text x="591.4" y="174.2" font-family="Liberation Serif" font-size="33.6">(C<tspan font-size="22.4" dy="6.5">9</tspan><tspan dy="-6.5">NH</tspan><tspan font-size="22.4" dy="6.5">20</tspan><tspan dy="-6.5">)</tspan><tspan font-size="22.4" dy="6.5">9</tspan><tspan dy="-6.5">(Pb</tspan><tspan font-size="22.4" dy="6.5">3</tspan><tspan dy="-6.5">Br</tspan><tspan font-size="22.4" dy="6.5">11</tspan><tspan dy="-6.5">)(MnBr</tspan><tspan font-size="22.4" dy="6.5">4</tspan><tspan dy="-6.5">)</tspan><tspan font-size="22.4" dy="6.5">2</tspan></text>
<text x="258.2" y="271.6" font-family="Liberation Serif" font-size="23" fill="#000">4</text>
<text x="270.2" y="288.0" font-family="Liberation Serif" font-size="33" font-style="italic" fill="#000">T</text>
<text x="289.0" y="295.0" font-family="Liberation Serif" font-size="23" fill="#000">1</text>
<text x="305.9" y="288.0" font-family="Liberation Serif" font-size="33" fill="#000">(ZPL)</text>
<text x="278.2" y="842.6" font-family="Liberation Serif" font-size="23" fill="#000">4</text>
<text x="290.2" y="859.0" font-family="Liberation Serif" font-size="33" font-style="italic" fill="#000">T</text>
<text x="309.0" y="866.0" font-family="Liberation Serif" font-size="23" fill="#000">1</text>
<text x="325.9" y="859.0" font-family="Liberation Serif" font-size="33" fill="#000">(ZPL)</text>
<text x="396.0" y="466.1" font-family="Liberation Serif" font-size="23" fill="#000">4</text>
<text x="407.8" y="483.0" font-family="Liberation Serif" font-size="33" font-style="italic" fill="#000">T</text>
<text x="425.8" y="489.5" font-family="Liberation Serif" font-size="23" fill="#000">1</text>
<text x="443.0" y="483.0" font-family="Liberation Serif" font-size="33" fill="#000">(</text>
<text x="453.5" y="483.0" font-family="Liberation Serif" font-size="33" font-style="italic" fill="#000">E</text>
<text x="475.3" y="489.5" font-family="Liberation Serif" font-size="23" fill="#000">0</text>
<text x="486.1" y="483.0" font-family="Liberation Serif" font-size="33" fill="#000">)</text>
<text x="395.6" y="1036.6" font-family="Liberation Serif" font-size="23" fill="#000">4</text>
<text x="407.4" y="1053.5" font-family="Liberation Serif" font-size="33" font-style="italic" fill="#000">T</text>
<text x="425.4" y="1060.0" font-family="Liberation Serif" font-size="23" fill="#000">1</text>
<text x="442.6" y="1053.5" font-family="Liberation Serif" font-size="33" fill="#000">(</text>
<text x="453.1" y="1053.5" font-family="Liberation Serif" font-size="33" font-style="italic" fill="#000">E</text>
<text x="474.9" y="1060.0" font-family="Liberation Serif" font-size="23" fill="#000">0</text>
<text x="485.7" y="1053.5" font-family="Liberation Serif" font-size="33" fill="#000">)</text>
<text x="583.2" y="247.9" font-family="Liberation Serif" font-size="33" fill="#0000f4">PLE (</text>
<g transform="translate(662.2,247.9)" fill="#0000f4"><path d="M7.70,-17.71 L7.87,-17.88 L8.08,-18.11 L8.31,-18.39 L8.57,-18.70 L8.84,-19.03 L9.12,-19.36 L9.40,-19.67 L9.68,-19.96 L9.94,-20.19 L10.17,-20.37 L10.40,-20.52 L10.64,-20.67 L10.89,-20.80 L11.14,-20.92 L11.38,-21.01 L11.61,-21.09 L11.83,-21.14 L12.01,-21.17 L12.16,-21.17 L12.26,-21.15 L12.35,-21.13 L12.44,-21.10 L12.52,-21.06 L12.58,-21.02 L12.62,-20.98 L12.66,-20.93 L12.69,-20.88 L12.72,-20.82 L12.74,-20.75 L12.76,-20.66 L12.80,-20.54 L12.85,-20.35 L12.89,-20.11 L12.92,-19.82 L12.94,-19.50 L12.95,-19.15 L12.95,-18.78 L12.94,-18.39 L12.93,-17.99 L12.90,-17.59 L12.88,-17.19 L12.83,-16.76 L12.77,-16.30 L12.70,-15.82 L12.62,-15.32 L12.53,-14.81 L12.44,-14.29 L12.35,-13.77 L12.26,-13.25 L12.17,-12.73 L12.09,-12.24 L12.01,-11.74 L11.92,-11.23 L11.83,-10.72 L11.74,-10.21 L11.65,-9.69 L11.56,-9.17 L11.48,-8.66 L11.41,-8.15 L11.36,-7.65 L11.31,-7.18 L11.26,-6.70 L11.22,-6.22 L11.18,-5.75 L11.15,-5.27 L11.13,-4.80 L11.12,-4.35 L11.13,-3.89 L11.16,-3.45 L11.21,-3.03 L11.29,-2.62 L11.40,-2.23 L11.52,-1.86 L11.67,-1.50 L11.83,-1.16 L12.01,-0.85 L12.21,-0.55 L12.43,-0.28 L12.68,-0.03 L12.96,0.19 L13.28,0.35 L13.61,0.46 L13.95,0.52 L14.29,0.53 L14.62,0.49 L14.94,0.41 L15.25,0.29 L15.54,0.14 L15.82,-0.05 L16.09,-0.27 L16.36,-0.55 L16.63,-0.89 L16.89,-1.26 L17.14,-1.65 L17.39,-2.05 L17.62,-2.45 L17.83,-2.82 L18.01,-3.15 L18.16,-3.43 L18.26,-3.64 L17.54,-4.16 L17.36,-3.99 L17.15,-3.74 L16.91,-3.44 L16.64,-3.12 L16.36,-2.77 L16.08,-2.43 L15.79,-2.12 L15.53,-1.85 L15.29,-1.65 L15.11,-1.53 L14.95,-1.46 L14.80,-1.41 L14.66,-1.39 L14.54,-1.39 L14.44,-1.40 L14.37,-1.43 L14.32,-1.47 L14.28,-1.51 L14.26,-1.55 L14.24,-1.59 L14.21,-1.64 L14.14,-1.72 L14.07,-1.84 L13.98,-1.99 L13.90,-2.17 L13.81,-2.38 L13.74,-2.61 L13.68,-2.85 L13.62,-3.11 L13.59,-3.37 L13.56,-3.65 L13.55,-3.97 L13.55,-4.33 L13.56,-4.71 L13.59,-5.12 L13.63,-5.54 L13.67,-5.98 L13.73,-6.43 L13.78,-6.89 L13.84,-7.35 L13.91,-7.79 L13.99,-8.25 L14.08,-8.72 L14.18,-9.21 L14.29,-9.71 L14.40,-10.21 L14.51,-10.72 L14.62,-11.24 L14.73,-11.76 L14.83,-12.27 L14.92,-12.77 L15.02,-13.27 L15.12,-13.79 L15.23,-14.31 L15.33,-14.84 L15.43,-15.37 L15.51,-15.89 L15.59,-16.41 L15.65,-16.92 L15.70,-17.41 L15.72,-17.88 L15.72,-18.34 L15.72,-18.79 L15.71,-19.24 L15.68,-19.68 L15.64,-20.11 L15.58,-20.54 L15.50,-20.95 L15.39,-21.35 L15.24,-21.74 L15.03,-22.10 L14.78,-22.43 L14.50,-22.72 L14.19,-22.96 L13.86,-23.15 L13.52,-23.29 L13.18,-23.39 L12.83,-23.45 L12.49,-23.47 L12.14,-23.45 L11.79,-23.38 L11.44,-23.27 L11.11,-23.14 L10.79,-22.98 L10.48,-22.80 L10.17,-22.60 L9.87,-22.38 L9.58,-22.15 L9.30,-21.90 L9.03,-21.63 L8.76,-21.32 L8.49,-20.97 L8.23,-20.59 L7.98,-20.20 L7.74,-19.81 L7.51,-19.43 L7.31,-19.08 L7.14,-18.76 L7.00,-18.50 L6.90,-18.29 Z"/><path d="M0.2,0 L3.7,0 L13.9,-11.4 L12.6,-14.2 Z"/></g>
<text x="679.4" y="254.5" font-family="Liberation Serif" font-size="23" fill="#0000f4">em</text>
<rect x="713.9" y="233.1" width="18.1" height="1.9" fill="#0000f4"/>
<rect x="713.9" y="238.5" width="18.1" height="1.9" fill="#0000f4"/>
<text x="737.5" y="247.9" font-family="Liberation Serif" font-size="33" fill="#0000f4">528 nm)</text>
<text x="422.9" y="779.0" font-family="Liberation Serif" font-size="33" fill="#0000f4">PLE (</text>
<g transform="translate(501.9,779.0)" fill="#0000f4"><path d="M7.70,-17.71 L7.87,-17.88 L8.08,-18.11 L8.31,-18.39 L8.57,-18.70 L8.84,-19.03 L9.12,-19.36 L9.40,-19.67 L9.68,-19.96 L9.94,-20.19 L10.17,-20.37 L10.40,-20.52 L10.64,-20.67 L10.89,-20.80 L11.14,-20.92 L11.38,-21.01 L11.61,-21.09 L11.83,-21.14 L12.01,-21.17 L12.16,-21.17 L12.26,-21.15 L12.35,-21.13 L12.44,-21.10 L12.52,-21.06 L12.58,-21.02 L12.62,-20.98 L12.66,-20.93 L12.69,-20.88 L12.72,-20.82 L12.74,-20.75 L12.76,-20.66 L12.80,-20.54 L12.85,-20.35 L12.89,-20.11 L12.92,-19.82 L12.94,-19.50 L12.95,-19.15 L12.95,-18.78 L12.94,-18.39 L12.93,-17.99 L12.90,-17.59 L12.88,-17.19 L12.83,-16.76 L12.77,-16.30 L12.70,-15.82 L12.62,-15.32 L12.53,-14.81 L12.44,-14.29 L12.35,-13.77 L12.26,-13.25 L12.17,-12.73 L12.09,-12.24 L12.01,-11.74 L11.92,-11.23 L11.83,-10.72 L11.74,-10.21 L11.65,-9.69 L11.56,-9.17 L11.48,-8.66 L11.41,-8.15 L11.36,-7.65 L11.31,-7.18 L11.26,-6.70 L11.22,-6.22 L11.18,-5.75 L11.15,-5.27 L11.13,-4.80 L11.12,-4.35 L11.13,-3.89 L11.16,-3.45 L11.21,-3.03 L11.29,-2.62 L11.40,-2.23 L11.52,-1.86 L11.67,-1.50 L11.83,-1.16 L12.01,-0.85 L12.21,-0.55 L12.43,-0.28 L12.68,-0.03 L12.96,0.19 L13.28,0.35 L13.61,0.46 L13.95,0.52 L14.29,0.53 L14.62,0.49 L14.94,0.41 L15.25,0.29 L15.54,0.14 L15.82,-0.05 L16.09,-0.27 L16.36,-0.55 L16.63,-0.89 L16.89,-1.26 L17.14,-1.65 L17.39,-2.05 L17.62,-2.45 L17.83,-2.82 L18.01,-3.15 L18.16,-3.43 L18.26,-3.64 L17.54,-4.16 L17.36,-3.99 L17.15,-3.74 L16.91,-3.44 L16.64,-3.12 L16.36,-2.77 L16.08,-2.43 L15.79,-2.12 L15.53,-1.85 L15.29,-1.65 L15.11,-1.53 L14.95,-1.46 L14.80,-1.41 L14.66,-1.39 L14.54,-1.39 L14.44,-1.40 L14.37,-1.43 L14.32,-1.47 L14.28,-1.51 L14.26,-1.55 L14.24,-1.59 L14.21,-1.64 L14.14,-1.72 L14.07,-1.84 L13.98,-1.99 L13.90,-2.17 L13.81,-2.38 L13.74,-2.61 L13.68,-2.85 L13.62,-3.11 L13.59,-3.37 L13.56,-3.65 L13.55,-3.97 L13.55,-4.33 L13.56,-4.71 L13.59,-5.12 L13.63,-5.54 L13.67,-5.98 L13.73,-6.43 L13.78,-6.89 L13.84,-7.35 L13.91,-7.79 L13.99,-8.25 L14.08,-8.72 L14.18,-9.21 L14.29,-9.71 L14.40,-10.21 L14.51,-10.72 L14.62,-11.24 L14.73,-11.76 L14.83,-12.27 L14.92,-12.77 L15.02,-13.27 L15.12,-13.79 L15.23,-14.31 L15.33,-14.84 L15.43,-15.37 L15.51,-15.89 L15.59,-16.41 L15.65,-16.92 L15.70,-17.41 L15.72,-17.88 L15.72,-18.34 L15.72,-18.79 L15.71,-19.24 L15.68,-19.68 L15.64,-20.11 L15.58,-20.54 L15.50,-20.95 L15.39,-21.35 L15.24,-21.74 L15.03,-22.10 L14.78,-22.43 L14.50,-22.72 L14.19,-22.96 L13.86,-23.15 L13.52,-23.29 L13.18,-23.39 L12.83,-23.45 L12.49,-23.47 L12.14,-23.45 L11.79,-23.38 L11.44,-23.27 L11.11,-23.14 L10.79,-22.98 L10.48,-22.80 L10.17,-22.60 L9.87,-22.38 L9.58,-22.15 L9.30,-21.90 L9.03,-21.63 L8.76,-21.32 L8.49,-20.97 L8.23,-20.59 L7.98,-20.20 L7.74,-19.81 L7.51,-19.43 L7.31,-19.08 L7.14,-18.76 L7.00,-18.50 L6.90,-18.29 Z"/><path d="M0.2,0 L3.7,0 L13.9,-11.4 L12.6,-14.2 Z"/></g>
<text x="519.1" y="785.6" font-family="Liberation Serif" font-size="23" fill="#0000f4">em</text>
<rect x="553.6" y="764.2" width="18.1" height="1.9" fill="#0000f4"/>
<rect x="553.6" y="769.5" width="18.1" height="1.9" fill="#0000f4"/>
<text x="577.2" y="779.0" font-family="Liberation Serif" font-size="33" fill="#0000f4">565 nm)</text>
<text x="361.8" y="596.6" font-family="Liberation Serif" font-size="33" fill="#ff0000">PL (</text>
<g transform="translate(421.0,596.6)" fill="#ff0000"><path d="M7.70,-17.71 L7.87,-17.88 L8.08,-18.11 L8.31,-18.39 L8.57,-18.70 L8.84,-19.03 L9.12,-19.36 L9.40,-19.67 L9.68,-19.96 L9.94,-20.19 L10.17,-20.37 L10.40,-20.52 L10.64,-20.67 L10.89,-20.80 L11.14,-20.92 L11.38,-21.01 L11.61,-21.09 L11.83,-21.14 L12.01,-21.17 L12.16,-21.17 L12.26,-21.15 L12.35,-21.13 L12.44,-21.10 L12.52,-21.06 L12.58,-21.02 L12.62,-20.98 L12.66,-20.93 L12.69,-20.88 L12.72,-20.82 L12.74,-20.75 L12.76,-20.66 L12.80,-20.54 L12.85,-20.35 L12.89,-20.11 L12.92,-19.82 L12.94,-19.50 L12.95,-19.15 L12.95,-18.78 L12.94,-18.39 L12.93,-17.99 L12.90,-17.59 L12.88,-17.19 L12.83,-16.76 L12.77,-16.30 L12.70,-15.82 L12.62,-15.32 L12.53,-14.81 L12.44,-14.29 L12.35,-13.77 L12.26,-13.25 L12.17,-12.73 L12.09,-12.24 L12.01,-11.74 L11.92,-11.23 L11.83,-10.72 L11.74,-10.21 L11.65,-9.69 L11.56,-9.17 L11.48,-8.66 L11.41,-8.15 L11.36,-7.65 L11.31,-7.18 L11.26,-6.70 L11.22,-6.22 L11.18,-5.75 L11.15,-5.27 L11.13,-4.80 L11.12,-4.35 L11.13,-3.89 L11.16,-3.45 L11.21,-3.03 L11.29,-2.62 L11.40,-2.23 L11.52,-1.86 L11.67,-1.50 L11.83,-1.16 L12.01,-0.85 L12.21,-0.55 L12.43,-0.28 L12.68,-0.03 L12.96,0.19 L13.28,0.35 L13.61,0.46 L13.95,0.52 L14.29,0.53 L14.62,0.49 L14.94,0.41 L15.25,0.29 L15.54,0.14 L15.82,-0.05 L16.09,-0.27 L16.36,-0.55 L16.63,-0.89 L16.89,-1.26 L17.14,-1.65 L17.39,-2.05 L17.62,-2.45 L17.83,-2.82 L18.01,-3.15 L18.16,-3.43 L18.26,-3.64 L17.54,-4.16 L17.36,-3.99 L17.15,-3.74 L16.91,-3.44 L16.64,-3.12 L16.36,-2.77 L16.08,-2.43 L15.79,-2.12 L15.53,-1.85 L15.29,-1.65 L15.11,-1.53 L14.95,-1.46 L14.80,-1.41 L14.66,-1.39 L14.54,-1.39 L14.44,-1.40 L14.37,-1.43 L14.32,-1.47 L14.28,-1.51 L14.26,-1.55 L14.24,-1.59 L14.21,-1.64 L14.14,-1.72 L14.07,-1.84 L13.98,-1.99 L13.90,-2.17 L13.81,-2.38 L13.74,-2.61 L13.68,-2.85 L13.62,-3.11 L13.59,-3.37 L13.56,-3.65 L13.55,-3.97 L13.55,-4.33 L13.56,-4.71 L13.59,-5.12 L13.63,-5.54 L13.67,-5.98 L13.73,-6.43 L13.78,-6.89 L13.84,-7.35 L13.91,-7.79 L13.99,-8.25 L14.08,-8.72 L14.18,-9.21 L14.29,-9.71 L14.40,-10.21 L14.51,-10.72 L14.62,-11.24 L14.73,-11.76 L14.83,-12.27 L14.92,-12.77 L15.02,-13.27 L15.12,-13.79 L15.23,-14.31 L15.33,-14.84 L15.43,-15.37 L15.51,-15.89 L15.59,-16.41 L15.65,-16.92 L15.70,-17.41 L15.72,-17.88 L15.72,-18.34 L15.72,-18.79 L15.71,-19.24 L15.68,-19.68 L15.64,-20.11 L15.58,-20.54 L15.50,-20.95 L15.39,-21.35 L15.24,-21.74 L15.03,-22.10 L14.78,-22.43 L14.50,-22.72 L14.19,-22.96 L13.86,-23.15 L13.52,-23.29 L13.18,-23.39 L12.83,-23.45 L12.49,-23.47 L12.14,-23.45 L11.79,-23.38 L11.44,-23.27 L11.11,-23.14 L10.79,-22.98 L10.48,-22.80 L10.17,-22.60 L9.87,-22.38 L9.58,-22.15 L9.30,-21.90 L9.03,-21.63 L8.76,-21.32 L8.49,-20.97 L8.23,-20.59 L7.98,-20.20 L7.74,-19.81 L7.51,-19.43 L7.31,-19.08 L7.14,-18.76 L7.00,-18.50 L6.90,-18.29 Z"/><path d="M0.2,0 L3.7,0 L13.9,-11.4 L12.6,-14.2 Z"/></g>
<text x="437.8" y="603.0" font-family="Liberation Serif" font-size="23" fill="#ff0000">ex</text>
<rect x="465.4" y="581.8" width="18.0" height="1.9" fill="#ff0000"/>
<rect x="465.4" y="587.1" width="18.0" height="1.9" fill="#ff0000"/>
<text x="488.9" y="596.6" font-family="Liberation Serif" font-size="33" fill="#ff0000">450 nm)</text>
<text x="280.7" y="1166.6" font-family="Liberation Serif" font-size="33" fill="#ff0000">PL (</text>
<g transform="translate(339.9,1166.6)" fill="#ff0000"><path d="M7.70,-17.71 L7.87,-17.88 L8.08,-18.11 L8.31,-18.39 L8.57,-18.70 L8.84,-19.03 L9.12,-19.36 L9.40,-19.67 L9.68,-19.96 L9.94,-20.19 L10.17,-20.37 L10.40,-20.52 L10.64,-20.67 L10.89,-20.80 L11.14,-20.92 L11.38,-21.01 L11.61,-21.09 L11.83,-21.14 L12.01,-21.17 L12.16,-21.17 L12.26,-21.15 L12.35,-21.13 L12.44,-21.10 L12.52,-21.06 L12.58,-21.02 L12.62,-20.98 L12.66,-20.93 L12.69,-20.88 L12.72,-20.82 L12.74,-20.75 L12.76,-20.66 L12.80,-20.54 L12.85,-20.35 L12.89,-20.11 L12.92,-19.82 L12.94,-19.50 L12.95,-19.15 L12.95,-18.78 L12.94,-18.39 L12.93,-17.99 L12.90,-17.59 L12.88,-17.19 L12.83,-16.76 L12.77,-16.30 L12.70,-15.82 L12.62,-15.32 L12.53,-14.81 L12.44,-14.29 L12.35,-13.77 L12.26,-13.25 L12.17,-12.73 L12.09,-12.24 L12.01,-11.74 L11.92,-11.23 L11.83,-10.72 L11.74,-10.21 L11.65,-9.69 L11.56,-9.17 L11.48,-8.66 L11.41,-8.15 L11.36,-7.65 L11.31,-7.18 L11.26,-6.70 L11.22,-6.22 L11.18,-5.75 L11.15,-5.27 L11.13,-4.80 L11.12,-4.35 L11.13,-3.89 L11.16,-3.45 L11.21,-3.03 L11.29,-2.62 L11.40,-2.23 L11.52,-1.86 L11.67,-1.50 L11.83,-1.16 L12.01,-0.85 L12.21,-0.55 L12.43,-0.28 L12.68,-0.03 L12.96,0.19 L13.28,0.35 L13.61,0.46 L13.95,0.52 L14.29,0.53 L14.62,0.49 L14.94,0.41 L15.25,0.29 L15.54,0.14 L15.82,-0.05 L16.09,-0.27 L16.36,-0.55 L16.63,-0.89 L16.89,-1.26 L17.14,-1.65 L17.39,-2.05 L17.62,-2.45 L17.83,-2.82 L18.01,-3.15 L18.16,-3.43 L18.26,-3.64 L17.54,-4.16 L17.36,-3.99 L17.15,-3.74 L16.91,-3.44 L16.64,-3.12 L16.36,-2.77 L16.08,-2.43 L15.79,-2.12 L15.53,-1.85 L15.29,-1.65 L15.11,-1.53 L14.95,-1.46 L14.80,-1.41 L14.66,-1.39 L14.54,-1.39 L14.44,-1.40 L14.37,-1.43 L14.32,-1.47 L14.28,-1.51 L14.26,-1.55 L14.24,-1.59 L14.21,-1.64 L14.14,-1.72 L14.07,-1.84 L13.98,-1.99 L13.90,-2.17 L13.81,-2.38 L13.74,-2.61 L13.68,-2.85 L13.62,-3.11 L13.59,-3.37 L13.56,-3.65 L13.55,-3.97 L13.55,-4.33 L13.56,-4.71 L13.59,-5.12 L13.63,-5.54 L13.67,-5.98 L13.73,-6.43 L13.78,-6.89 L13.84,-7.35 L13.91,-7.79 L13.99,-8.25 L14.08,-8.72 L14.18,-9.21 L14.29,-9.71 L14.40,-10.21 L14.51,-10.72 L14.62,-11.24 L14.73,-11.76 L14.83,-12.27 L14.92,-12.77 L15.02,-13.27 L15.12,-13.79 L15.23,-14.31 L15.33,-14.84 L15.43,-15.37 L15.51,-15.89 L15.59,-16.41 L15.65,-16.92 L15.70,-17.41 L15.72,-17.88 L15.72,-18.34 L15.72,-18.79 L15.71,-19.24 L15.68,-19.68 L15.64,-20.11 L15.58,-20.54 L15.50,-20.95 L15.39,-21.35 L15.24,-21.74 L15.03,-22.10 L14.78,-22.43 L14.50,-22.72 L14.19,-22.96 L13.86,-23.15 L13.52,-23.29 L13.18,-23.39 L12.83,-23.45 L12.49,-23.47 L12.14,-23.45 L11.79,-23.38 L11.44,-23.27 L11.11,-23.14 L10.79,-22.98 L10.48,-22.80 L10.17,-22.60 L9.87,-22.38 L9.58,-22.15 L9.30,-21.90 L9.03,-21.63 L8.76,-21.32 L8.49,-20.97 L8.23,-20.59 L7.98,-20.20 L7.74,-19.81 L7.51,-19.43 L7.31,-19.08 L7.14,-18.76 L7.00,-18.50 L6.90,-18.29 Z"/><path d="M0.2,0 L3.7,0 L13.9,-11.4 L12.6,-14.2 Z"/></g>
<text x="356.7" y="1173.0" font-family="Liberation Serif" font-size="23" fill="#ff0000">ex</text>
<rect x="384.3" y="1151.8" width="18.0" height="1.9" fill="#ff0000"/>
<rect x="384.3" y="1157.1" width="18.0" height="1.9" fill="#ff0000"/>
<text x="407.8" y="1166.6" font-family="Liberation Serif" font-size="33" fill="#ff0000">365 nm)</text>
<text x="832.4" y="603.6" font-family="Liberation Serif" font-size="33" font-style="italic" fill="#000">T</text>
<rect x="856.8" y="588.8" width="17.5" height="1.9" fill="#000"/>
<rect x="856.8" y="594.1" width="17.5" height="1.9" fill="#000"/>
<text x="879.4" y="603.6" font-family="Liberation Serif" font-size="34" fill="#000">300</text>
<text x="938.1" y="603.6" font-family="Liberation Serif" font-size="34" fill="#000">K</text>
<text x="832.4" y="1174.6" font-family="Liberation Serif" font-size="33" font-style="italic" fill="#000">T</text>
<rect x="856.8" y="1159.8" width="17.5" height="1.9" fill="#000"/>
<rect x="856.8" y="1165.1" width="17.5" height="1.9" fill="#000"/>
<text x="879.4" y="1174.6" font-family="Liberation Serif" font-size="34" fill="#000">300</text>
<text x="938.1" y="1174.6" font-family="Liberation Serif" font-size="34" fill="#000">K</text>
<path d="M341.1,296.1 L346.5,296.1 L346.5,331.3 L351.6,328.0 L352.6,329.6 L343.8,340.9 L335.2,329.6 L336.2,328.0 L341.1,331.3 Z" fill="#000"/>
<path d="M341.1,873.7 L346.5,873.7 L346.5,908.9 L351.6,905.6 L352.6,907.2 L343.8,918.5 L335.2,907.2 L336.2,905.6 L341.1,908.9 Z" fill="#000"/>
<line x1="431.1" y1="449.4" x2="431.1" y2="409.0" stroke="#000" stroke-width="1.6"/>
<path d="M431.1,395.4 L436.2,412.4 L431.1,410.2 L426,412.4 Z" fill="#000"/>
<line x1="431.1" y1="1020.0" x2="431.1" y2="979.6" stroke="#000" stroke-width="1.6"/>
<path d="M431.1,966.0 L436.2,983.0 L431.1,980.8 L426,983.0 Z" fill="#000"/>
<rect x="644.6" y="435.8" width="274.3" height="106.9" rx="11" ry="11" fill="#fff" stroke="#000" stroke-width="2.5"/>
<line x1="687.5" y1="456.7" x2="687.5" y2="481.9" stroke="#ff00ff" stroke-width="3.2" stroke-linecap="round"/>
<rect x="664.3" y="496.2" width="46.5" height="26.4" fill="#ffd2d2" stroke="#000" stroke-width="1.9"/>
<text x="717.5" y="476.2" font-family="Liberation Serif" font-size="33" fill="#000">:</text>
<text x="717.5" y="520.1" font-family="Liberation Serif" font-size="33" fill="#000">:</text>
<text x="742.8" y="475.6" font-family="Liberation Serif" font-size="33" fill="#000">Poisson fit</text>
<text x="742.8" y="519.2" font-family="Liberation Serif" font-size="33" fill="#000">Gaussian fit</text>
<rect x="626.7" y="1000.3" width="267.5" height="103.3" rx="11" ry="11" fill="#fff" stroke="#000" stroke-width="2.5"/>
<line x1="667.3" y1="1020.7" x2="667.3" y2="1046.3" stroke="#ff00ff" stroke-width="3.2" stroke-linecap="round"/>
<rect x="641.9" y="1061" width="47.2" height="26.8" fill="#ffd2d2" stroke="#000" stroke-width="1.9"/>
<text x="695.7" y="1044.4" font-family="Liberation Serif" font-size="33" fill="#000">:</text>
<text x="695.7" y="1088.6" font-family="Liberation Serif" font-size="33" fill="#000">:</text>
<text x="720.9" y="1044.1" font-family="Liberation Serif" font-size="33" fill="#000">Poisson fit</text>
<text x="720.9" y="1087.8" font-family="Liberation Serif" font-size="33" fill="#000">Gaussian fit</text></svg></body></html>
